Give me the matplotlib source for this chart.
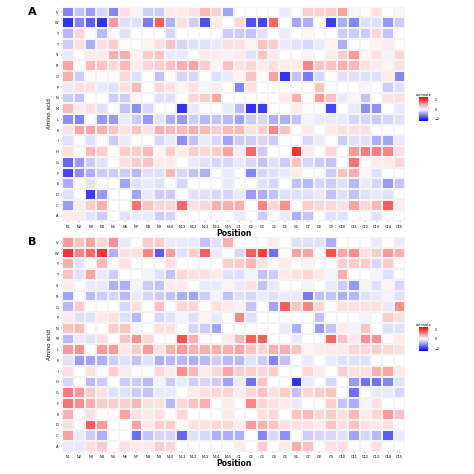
import numpy as np
import matplotlib
matplotlib.use("Agg")
import matplotlib.pyplot as plt

# amino acids top -> bottom, positions left -> right
amino_acids = ["V", "W", "Y", "T", "S", "R", "Q", "P", "N", "M",
               "L", "K", "I", "H", "G", "F", "E", "D", "C", "A"]
positions = [f"N{i}" for i in range(1, 16)] + [f"C{i}" for i in range(1, 16)]

panel_a = [
    [-1.2, -0.6, -1.0, -0.4, -1.2, 0.3, 0.1, -0.5, -0.5, 0.2, 0.2, 0.3, 0.7, 0.5, -0.9, 0.0, 0.0, 0.0, 0.0, -0.2, 0.0, 0.5, 0.5, 0.5, 0.9, 0.1, 0.0, 0.3, 0.0, 0.1],
    [-2.0, -1.2, -1.6, -2.0, 1.0, -0.3, -0.3, -1.3, 1.6, -0.8, 0.3, -0.5, -1.7, 0.2, 0.0, 0.4, -1.7, -1.8, 1.5, 0.0, -0.9, -0.8, 0.0, -1.9, -0.8, -1.2, -0.3, -0.3, -1.0, -0.5],
    [-0.7, 0.4, 0.0, -0.7, 0.0, -0.3, 0.0, 0.0, 0.0, -0.4, 0.0, 0.0, 0.0, 0.0, -0.5, -0.5, -0.6, -0.3, 0.0, -0.2, 0.0, 0.1, 0.0, 0.0, -0.5, -0.5, -0.5, 0.4, -0.6, 0.0],
    [-0.5, 0.3, -0.8, 0.3, 0.5, 0.0, 0.0, 0.1, 0.3, 0.6, -0.4, -0.3, -0.3, -0.2, 0.3, 0.3, 0.1, 0.6, 0.5, -0.2, -0.3, -0.4, -0.2, 0.1, -0.8, 0.0, 0.0, 0.1, 0.2, 0.0],
    [-0.2, 0.0, 0.2, 0.2, 0.8, 0.8, 0.1, 0.5, 0.6, -0.2, -0.2, 0.0, 0.2, 0.2, -0.1, 0.2, -0.3, 0.6, 0.2, 0.0, 0.0, 0.1, 0.0, 0.2, 0.5, 1.0, 0.1, 0.3, -0.1, 0.4],
    [0.9, 0.0, 0.7, 0.6, 0.4, 0.7, 0.2, 0.4, 0.5, 0.6, 0.8, 0.9, 0.5, 0.1, 0.6, 0.3, 0.4, 0.2, 0.3, 0.2, 0.2, 1.2, 0.6, 0.6, 0.8, 0.7, 0.3, 0.2, 0.1, 0.3],
    [0.8, -0.5, 0.0, 0.0, 0.0, 0.4, -0.3, 0.0, -0.6, 0.0, -0.4, -0.4, 0.0, -0.3, -0.2, 0.1, 0.6, 0.0, 0.9, -2.0, -0.6, -1.3, -0.4, 0.0, -0.3, -0.3, -0.3, -0.3, 0.2, -1.2],
    [-0.2, 0.3, 0.3, -0.2, -0.3, 0.3, 0.7, 0.0, 0.4, 0.3, 0.1, 0.3, -0.1, 0.2, 0.0, -1.2, 0.3, 0.0, 0.0, 0.0, 0.0, 0.0, 0.6, 0.0, 0.0, 0.0, 0.1, 0.0, -0.5, -0.3],
    [-0.5, -0.6, 0.0, 0.0, -0.5, -0.5, 0.1, 0.0, -0.3, -0.3, 0.0, 0.4, 0.5, 0.9, 0.0, 0.0, 0.0, 0.0, 0.0, 0.2, 0.8, 0.0, 1.0, 0.6, -0.2, 0.1, -0.6, 0.0, 0.3, 0.3],
    [0.7, 0.2, 0.3, -0.3, 0.0, -0.6, -1.1, -0.4, 0.0, 0.0, -2.0, -0.2, 0.0, 0.0, -0.2, -0.7, -2.0, -1.9, 0.0, 0.0, 0.2, 0.0, 0.0, -1.8, 0.0, -0.2, -1.1, -1.1, 0.0, -0.2],
    [-1.1, -1.2, 0.0, -1.0, -1.0, -0.2, -0.5, -1.0, -0.3, -0.8, -1.0, -0.5, -0.7, -0.6, -0.7, -0.9, -0.5, -0.4, -0.8, -0.8, -0.6, -0.1, -0.2, -0.2, -0.2, -0.4, -0.4, -0.5, -0.4, -0.3],
    [0.3, 0.9, 0.9, 0.8, 0.6, 0.3, 0.6, 0.3, 0.8, 0.7, 0.7, 0.8, 0.7, 0.5, 0.7, 0.7, 0.3, 0.5, 1.2, 0.6, 0.0, 0.2, 0.0, 0.2, 0.3, 0.3, 0.3, 0.0, 0.0, 0.0],
    [-0.3, 0.0, -0.3, 0.0, -0.5, -0.2, 0.0, 0.0, -0.4, -0.2, -1.1, -0.6, -0.2, -0.4, -0.9, -0.5, -0.5, -0.4, -0.5, 0.0, 0.0, -0.4, -0.2, 0.0, -0.5, -0.3, -0.3, -0.8, -0.9, -0.2],
    [0.3, 0.0, 0.7, 0.5, 0.0, 0.5, 0.5, 0.7, 0.1, 0.5, 0.2, 0.5, 0.4, 0.5, 0.9, 0.2, 1.5, -0.5, 0.0, 0.0, 2.0, 0.2, 0.0, 0.4, 0.0, 1.0, 1.3, 1.3, 1.2, 0.3],
    [-1.5, -1.0, -0.5, -0.3, 0.0, 0.3, 0.5, 0.6, 0.2, 0.2, 0.0, -0.2, -0.3, -0.4, -0.4, -0.2, -0.4, -0.6, -0.3, -0.5, 0.6, -0.4, -0.5, -0.6, 0.0, 1.4, 0.0, 0.2, 0.2, 0.4],
    [-1.8, -1.1, -0.8, -0.5, -0.5, -0.5, -0.7, -0.3, -0.3, 0.7, -0.4, -0.6, -0.8, 0.0, -0.2, 0.0, -1.2, -0.4, -0.3, -0.2, 0.2, 0.0, 0.0, -0.5, 0.6, 0.8, 0.1, -0.3, 0.0, 0.0],
    [-0.8, 0.0, -0.3, 0.0, 0.0, -0.9, -0.3, -0.2, -0.3, 0.0, -0.4, 0.0, 0.0, 0.0, -0.2, 0.0, 0.0, -0.3, -0.4, 0.0, -0.6, -0.7, -0.4, -0.5, -0.3, -0.7, -0.2, -0.4, -1.0, -0.6],
    [-0.3, 0.0, -1.9, -1.0, 0.0, 0.0, -0.9, -0.2, -0.5, -0.5, 0.0, -0.3, -0.3, -0.4, -0.4, -0.2, -1.0, -0.8, -0.6, -0.3, -0.3, -0.3, -0.2, -0.6, -0.3, -0.6, -0.3, -0.2, -0.3, 0.0],
    [-1.0, 0.2, 0.5, 0.8, 0.0, 0.0, 1.4, 0.6, 0.4, 0.4, 1.5, 0.3, 0.4, 0.8, 0.8, 0.8, 0.0, 1.2, 0.4, 1.1, 0.0, 0.5, 0.4, 0.4, 0.3, 0.9, 0.4, 0.7, 1.6, 0.2],
    [0.2, 0.2, -0.3, -0.5, 0.0, -0.3, -0.2, -0.2, -0.5, -0.4, 0.0, 0.0, 0.0, 0.0, 0.0, -0.2, 0.0, -0.5, 0.0, -0.2, -0.8, -0.6, 0.0, -0.3, -0.3, 0.0, 0.0, -0.3, 0.0, 0.0],
]

panel_b = [
    [1.0, 0.6, 0.9, 0.4, 1.1, -0.2, 0.0, 0.5, 0.5, -0.2, -0.2, -0.2, -0.6, -0.3, 0.8, 0.0, 0.0, 0.0, 0.2, 0.0, -0.3, -0.3, -0.3, -0.8, 0.0, 0.0, 0.0, -0.2, 0.0, -0.2],
    [2.0, 1.2, 1.5, 2.0, -0.8, 0.3, 0.3, 1.2, -1.6, 1.0, -0.3, 0.5, 1.6, -0.2, 0.0, -0.4, 1.6, 1.9, -1.4, 0.0, 0.9, 0.9, 0.0, 1.7, 0.9, 1.1, 0.3, 0.5, 1.0, 0.8],
    [0.8, -0.3, 0.0, 0.7, 0.0, 0.3, 0.0, 0.0, 0.0, 0.3, 0.0, 0.0, 0.0, 0.0, 0.5, 0.5, 0.7, 0.3, 0.0, 0.2, 0.0, 0.1, 0.0, 0.0, 0.5, 0.5, 0.5, -0.4, 0.5, 0.0],
    [0.6, -0.3, 0.9, -0.2, -0.5, 0.0, 0.0, -0.1, -0.3, -0.6, 0.4, 0.3, 0.3, 0.2, -0.3, -0.3, -0.1, -0.6, -0.5, 0.2, 0.3, 0.4, 0.2, -0.1, 0.8, 0.0, 0.0, -0.1, -0.3, 0.0],
    [0.2, 0.0, -0.2, -0.2, -0.8, -0.8, -0.1, -0.5, -0.6, 0.2, 0.2, 0.0, -0.2, -0.2, 0.1, -0.2, 0.3, -0.6, -0.2, 0.0, 0.0, -0.1, 0.0, -0.2, -0.5, -1.0, -0.1, -0.3, 0.1, -0.4],
    [-0.9, 0.0, -0.7, -0.5, -0.4, -0.7, -0.2, -0.4, -0.5, -0.6, -0.8, -0.9, -0.5, -0.1, -0.6, -0.3, -0.4, -0.2, -0.3, -0.2, -0.2, -1.3, -0.6, -0.6, -0.8, -0.7, -0.3, -0.2, -0.1, -0.3],
    [-0.7, 0.5, 0.0, 0.0, 0.0, -0.4, 0.3, 0.0, 0.6, 0.0, 0.4, 0.4, 0.0, 0.3, 0.2, -0.1, -0.6, 0.0, -0.9, 1.6, 0.6, 1.2, 0.4, 0.0, 0.3, 0.3, 0.3, 0.3, -0.2, 1.1],
    [0.2, -0.3, -0.3, 0.2, 0.3, -0.3, -0.7, 0.0, -0.4, -0.3, -0.1, -0.3, 0.1, -0.2, 0.0, 1.2, -0.3, 0.0, 0.0, 0.0, 0.0, 0.0, -0.6, 0.0, 0.0, 0.0, -0.1, 0.0, 0.5, 0.3],
    [0.6, 0.7, 0.0, 0.0, 0.5, 0.6, -0.1, 0.0, 0.3, 0.3, 0.0, -0.4, -0.5, -0.9, 0.0, 0.0, 0.0, 0.0, 0.0, -0.2, -0.8, 0.0, -1.0, -0.6, 0.2, -0.1, 0.6, 0.0, -0.3, -0.3],
    [-0.7, -0.2, -0.3, 0.3, 0.0, 0.6, 1.1, 0.4, 0.0, 0.0, 1.7, 0.8, 0.0, 0.0, 0.2, 0.7, 1.6, 1.6, 0.0, 0.0, -0.2, 0.0, 0.0, 1.5, 0.6, 0.2, 1.1, 1.1, 0.0, 0.2],
    [1.0, 1.1, 0.0, 1.0, 1.0, 0.2, 0.5, 1.0, 0.3, 0.8, 1.0, 0.8, 0.8, 0.8, 0.8, 0.9, 0.6, 0.4, 0.8, 0.8, 0.6, 0.1, 0.2, 0.2, 0.2, 0.4, 0.4, 0.5, 0.4, 0.3],
    [-0.3, -1.0, -0.9, -0.8, -0.5, -0.3, -0.6, -0.3, -0.8, -0.7, -0.7, -0.8, -0.7, -0.5, -0.7, -0.7, -0.3, -0.5, -1.2, -0.6, 0.0, -0.2, 0.0, -0.2, -0.3, -0.3, -0.3, 0.0, 0.0, 0.0],
    [0.3, 0.0, 0.3, 0.0, 0.5, 0.2, 0.0, 0.0, 0.4, 0.2, 1.1, 0.7, 0.2, 0.4, 0.9, 0.5, 0.5, 0.4, 0.5, 0.0, 0.0, 0.4, 0.2, 0.0, 0.5, 0.3, 0.3, 0.8, 0.9, 0.2],
    [-0.4, 0.0, -0.7, -0.5, 0.0, -0.5, -0.5, -0.7, -0.1, -0.5, -0.2, -0.5, -0.4, -0.5, -0.9, -0.2, -1.4, 0.6, 0.0, 0.0, -2.0, -0.2, 0.0, -0.4, 0.0, -1.0, -1.4, -1.4, -1.2, -0.3],
    [1.3, 1.0, 0.5, 0.3, -0.3, -0.3, -0.5, -0.6, -0.2, -0.2, 0.0, 0.2, 0.3, 0.4, 0.4, 0.2, 0.4, 0.6, 0.3, 0.5, -0.6, 0.4, 0.5, 0.6, 0.0, -1.4, 0.0, -0.2, -0.2, -0.4],
    [1.4, 1.1, 0.8, 0.5, 0.5, 0.5, 0.7, 0.3, 0.3, -0.7, 0.4, 0.6, 0.8, 0.0, 0.2, 0.0, 1.2, 0.4, 0.3, 0.2, -0.2, 0.0, 0.0, 0.5, -0.6, -0.8, -0.1, 0.3, 0.0, 0.0],
    [0.8, 0.0, 0.3, 0.0, 0.0, 0.9, 0.3, 0.2, 0.3, 0.0, 0.4, 0.0, 0.0, 0.0, 0.2, 0.0, 0.0, 0.3, 0.4, 0.0, 0.6, 0.7, 0.4, 0.5, 0.3, 0.7, 0.2, 0.4, 1.0, 0.6],
    [0.3, 0.0, 1.6, 1.0, 0.0, 0.0, 0.9, 0.2, 0.5, 0.5, 0.0, 0.3, 0.3, 0.4, 0.4, 0.2, 1.0, 0.8, 0.6, 0.3, 0.3, 0.3, 0.2, 0.6, 0.3, 0.6, 0.3, 0.2, 0.3, 0.0],
    [0.9, -0.2, -0.5, -0.8, 0.0, 0.0, -1.4, -0.6, -0.4, -0.4, -1.5, -0.3, -0.4, -0.8, -0.8, -0.8, 0.0, -1.2, -0.4, -1.1, 0.0, -0.5, -0.4, -0.4, -0.3, -0.9, -0.4, -0.7, -1.6, -0.2],
    [-0.2, -0.2, 0.3, 0.5, 0.0, 0.3, 0.2, 0.2, 0.5, 0.4, 0.0, 0.0, 0.0, 0.0, 0.0, 0.2, 0.0, 0.5, 0.0, 0.2, 0.8, 0.6, 0.0, 0.3, 0.3, 0.0, 0.0, 0.3, 0.0, 0.0],
]

fig = plt.figure(figsize=(4.74, 4.74), dpi=100)

def draw_panel(ax, values, letter):
    data = np.array(values)
    mesh = ax.pcolormesh(data, cmap="bwr", vmin=-2.5, vmax=2.5,
                         edgecolors="#f4f4f4", linewidth=0.15)
    ax.set_xlim(0, len(positions))
    ax.set_ylim(len(amino_acids), 0)
    ax.set_xticks(np.arange(len(positions)) + 0.5)
    ax.set_xticklabels(positions, fontsize=2.6)
    ax.set_yticks(np.arange(len(amino_acids)) + 0.5)
    ax.set_yticklabels(amino_acids, fontsize=2.6)
    ax.tick_params(length=1, width=0.3, pad=1.5, color="#555555")
    for s in ax.spines.values():
        s.set_visible(False)
    ax.set_xlabel("Position", fontsize=5.5, fontweight="bold", labelpad=0)
    ax.set_ylabel("Amino acid", fontsize=4, labelpad=2)
    ax.text(-0.075, 1.0, letter, transform=ax.transAxes, fontsize=8,
            fontweight="bold", va="top", ha="right")
    return mesh

def draw_colorbar(mesh, rect):
    cax = fig.add_axes(rect)
    cb = fig.colorbar(mesh, cax=cax, ticks=[-2, 0, 2])
    cb.ax.tick_params(labelsize=2.5, length=1, width=0.3)
    cb.outline.set_visible(False)
    cax.set_title("estimate", fontsize=2.5, pad=1)

ax_a = fig.add_axes([0.131, 0.533, 0.724, 0.453])
draw_colorbar(draw_panel(ax_a, panel_a, "A"), [0.883, 0.745, 0.02, 0.05])

ax_b = fig.add_axes([0.131, 0.047, 0.724, 0.453])
draw_colorbar(draw_panel(ax_b, panel_b, "B"), [0.883, 0.26, 0.02, 0.05])

fig.savefig("out.png", dpi=100)
